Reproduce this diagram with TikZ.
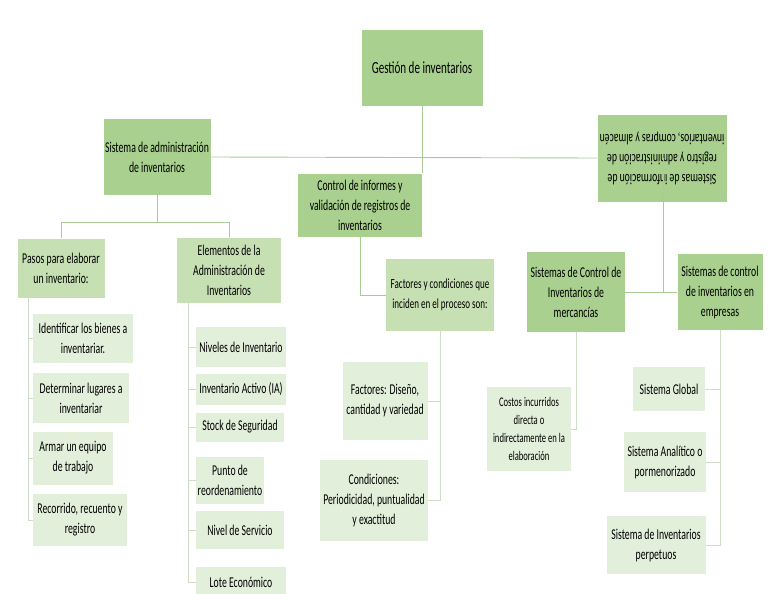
\documentclass[tikz,border=0pt]{standalone}
\usepackage{fontspec}
\setmainfont[FakeStretch=0.65]{Carlito}
\definecolor{gdark}{HTML}{A9D08E}
\definecolor{gmid}{HTML}{C6E0B4}
\definecolor{glight}{HTML}{E2EFDA}
\definecolor{gline}{HTML}{A9CB96}
\definecolor{gthin}{HTML}{CFDCC6}
\tikzset{
  topbox/.style={fill=gdark, align=center, inner sep=1pt, font=\fontsize{15}{20}\selectfont},
  midbox/.style={fill=gmid, align=center, inner sep=1pt, font=\fontsize{15}{20}\selectfont},
  leafbox/.style={fill=glight, align=center, inner sep=1pt, font=\fontsize{15}{20}\selectfont},
  link/.style={draw=gline, line width=0.9pt},
  twig/.style={draw=gthin, line width=0.9pt},
}
\begin{document}
\begin{tikzpicture}[x=1pt, y=-1pt]
\useasboundingbox (0,0) rectangle (768,594);
% main levels
\node[topbox, minimum width=121, minimum height=75, font=\fontsize{17}{20}\selectfont] (gest) at (422,68) {Gestión de inventarios};
\node[topbox, minimum width=107, minimum height=76] (admin) at (157,157) {Sistema de administración\\de inventarios};
\node[topbox, minimum width=124, minimum height=63] (ctrl) at (360,205) {Control de informes y\\validación de registros de\\inventarios};
\node[topbox, minimum width=129, minimum height=87, rotate=180] (info) at (662,158) {Sistemas de información de\\registro y administración de\\inventarios, compras y almacén};
\node[midbox, minimum width=87, minimum height=59] (pasos) at (61,268) {Pasos para elaborar\\un inventario:};
\node[midbox, minimum width=104, minimum height=65] (elem) at (229,270) {Elementos de la\\Administración de\\Inventarios};
\node[midbox, minimum width=108, minimum height=72, font=\fontsize{13.9}{20}\selectfont] (fact) at (440,295) {Factores y condiciones que\\inciden en el proceso son:};
\node[topbox, minimum width=98, minimum height=80] (merc) at (576,292) {Sistemas de Control de\\Inventarios de\\mercancías};
\node[topbox, minimum width=85, minimum height=76] (empr) at (720,292) {Sistemas de control\\de inventarios en\\empresas};
% leaves
\node[leafbox, minimum width=100, minimum height=49] (p1) at (83,338) {Identificar los bienes a\\inventariar.};
\node[leafbox, minimum width=96, minimum height=50] (p2) at (81,398) {Determinar lugares a\\inventariar};
\node[leafbox, minimum width=80, minimum height=53] (p3) at (73,458) {Armar un equipo\\de trabajo};
\node[leafbox, minimum width=94, minimum height=52] (p4) at (80,520) {Recorrido, recuento y\\registro};
\node[leafbox, minimum width=90, minimum height=40] (e1) at (241,347) {Niveles de Inventario};
\node[leafbox, minimum width=90, minimum height=31] (e2) at (241,389) {Inventario Activo (IA)};
\node[leafbox, minimum width=88, minimum height=29] (e3) at (240,427) {Stock de Seguridad};
\node[leafbox, minimum width=68, minimum height=47] (e4) at (230,480) {Punto de\\reordenamiento};
\node[leafbox, minimum width=88, minimum height=38] (e5) at (240,530) {Nivel de Servicio};
\node[leafbox, minimum width=90, minimum height=30] (e6) at (241,582) {Lote Económico};
\node[leafbox, minimum width=85, minimum height=78] (f1) at (385,401) {Factores: Diseño,\\cantidad y variedad};
\node[leafbox, minimum width=108, minimum height=81] (f2) at (374,500) {Condiciones:\\Periodicidad, puntualidad\\y exactitud};
\node[leafbox, minimum width=84, minimum height=84, font=\fontsize{13.2}{18}\selectfont] (cost) at (529,429) {Costos incurridos\\directa o\\indirectamente en la\\elaboración};
\node[leafbox, minimum width=72, minimum height=44] (s1) at (669,389) {Sistema Global};
\node[leafbox, minimum width=82, minimum height=60] (s2) at (665,462) {Sistema Analítico o\\pormenorizado};
\node[leafbox, minimum width=99, minimum height=58] (s3) at (656,545) {Sistema de Inventarios\\perpetuos};
% main connectors
\draw[link] (admin.east) -- (info.east);
\draw[link] (gest.south -| ctrl.north east) -- (ctrl.north east);
\draw[link] (admin.south) -- ++(0,27) -| (pasos.north);
\draw[link] (admin.south) ++(0,27) -| (elem.north);
\draw[link] (ctrl.south) |- (fact.west);
\draw[link] (merc.east) -- (empr.west);
\draw[link] (info.west -| 663,0) -- (663,292);
% branch connectors
\draw[twig] (pasos.south -| 28,0) |- (p4.west);
\foreach \n in {p1,p2,p3} \draw[twig] (\n.west) -- (\n.west -| 28,0);
\draw[twig] (elem.south -| 188,0) |- (e6.west);
\foreach \n in {e1,e2,e3,e4,e5} \draw[twig] (\n.west) -- (\n.west -| 188,0);
\draw[twig] (fact.south) |- (f2.east);
\draw[twig] (f1.east) -- (f1.east -| fact.south);
\draw[twig] (merc.south) |- (cost.east);
\draw[twig] (empr.south) |- (s3.east);
\foreach \n in {s1,s2} \draw[twig] (\n.east) -- (\n.east -| empr.south);
\end{tikzpicture}
\end{document}
